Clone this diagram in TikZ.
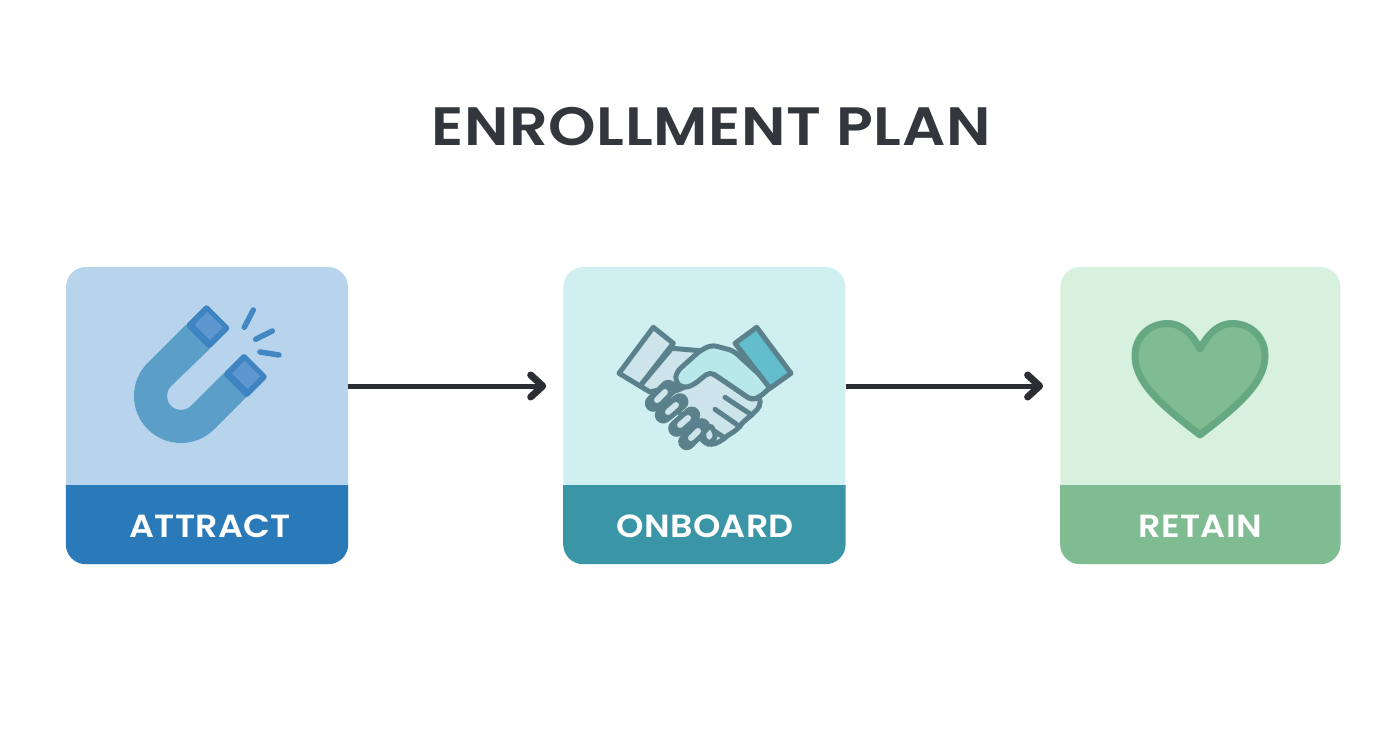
\documentclass[tikz,border=0pt]{standalone}
\usepackage{fontspec}
\newfontfamily\titlefont[FakeStretch=1.12,LetterSpace=1.2]{Poppins SemiBold}
\newfontfamily\bandfont[FakeStretch=1.09,LetterSpace=1]{Poppins SemiBold}
\usetikzlibrary{positioning,calc,arrows.meta}
\definecolor{inkcolor}{RGB}{43, 45, 51}
\definecolor{titlecolor}{RGB}{51, 54, 60}
\definecolor{attractlight}{RGB}{184, 212, 236}
\definecolor{attractdark}{RGB}{42, 121, 185}
\definecolor{onboardlight}{RGB}{207, 239, 241}
\definecolor{onboarddark}{RGB}{58, 150, 166}
\definecolor{retainlight}{RGB}{216, 241, 222}
\definecolor{retaindark}{RGB}{128, 188, 146}
\definecolor{magnetbody}{RGB}{91, 158, 200}
\definecolor{magnetcap}{RGB}{63, 132, 194}
\definecolor{magnetinner}{RGB}{94, 151, 207}
\definecolor{shakeline}{RGB}{91, 130, 140}
\definecolor{shakepale}{RGB}{205, 229, 234}
\definecolor{shakehand}{RGB}{184, 232, 234}
\definecolor{shakecuff}{RGB}{98, 189, 205}
\definecolor{heartline}{RGB}{102, 168, 129}

\begin{document}
\begin{tikzpicture}[
    x=1pt, y=-1pt,
    node distance=215pt,
    card/.style={rectangle, rounded corners=20pt, minimum width=282pt, minimum height=297pt, inner sep=0pt},
    bandtext/.style={text=white, font=\bandfont\fontsize{32}{32}\selectfont},
    arrow/.style={-{Straight Barb[length=12pt,width=22pt,line cap=round,round,line width=7pt]}, line width=5pt, draw=inkcolor, shorten >=17pt},
    spark/.style={line width=5.5pt, line cap=round, draw=magnetcap!85!magnetbody},
    finger/.style={line cap=round, line width=17pt, draw=shakeline},
    fingerslit/.style={line cap=round, line width=6pt, draw=shakepale},
    shake/.style={draw=shakeline, line width=5pt, line join=round, line cap=round}
]
\useasboundingbox (0,0) rectangle (1392,752);

% Title
\node[text=titlecolor, font=\titlefont\fontsize{54}{54}\selectfont] (title) at (711,127) {ENROLLMENT PLAN};

% Cards
\node[card, fill=attractlight] (attract) at (207,415.5) {};
\node[card, fill=onboardlight, right=of attract] (onboard) {};
\node[card, fill=retainlight, minimum width=280pt, right=214.5pt of onboard] (retain) {};

% Dark bands
\fill[attractdark] ([yshift=79pt]attract.south east) -- ([yshift=79pt]attract.south west) [rounded corners=20pt] -- (attract.south west) -- (attract.south east) [sharp corners] -- cycle;
\fill[onboarddark] ([yshift=79pt]onboard.south east) -- ([yshift=79pt]onboard.south west) [rounded corners=20pt] -- (onboard.south west) -- (onboard.south east) [sharp corners] -- cycle;
\fill[retaindark] ([yshift=79pt]retain.south east) -- ([yshift=79pt]retain.south west) [rounded corners=20pt] -- (retain.south west) -- (retain.south east) [sharp corners] -- cycle;

% Band labels
\node[bandtext] (attract_label) at ([xshift=3pt,yshift=38pt]attract.south) {ATTRACT};
\node[bandtext] (onboard_label) at ([xshift=1pt,yshift=38pt]onboard.south) {ONBOARD};
\node[bandtext] (retain_label) at ([yshift=38pt]retain.south) {RETAIN};

% Arrows
\draw[arrow] ([yshift=29.5pt]attract.east) -- ([yshift=29.5pt]onboard.west);
\draw[arrow] ([yshift=29.5pt]onboard.east) -- ([yshift=29.5pt]retain.west);

% Magnet
\begin{scope}[shift={(181,396)}, rotate=45, x=1pt, y=1pt]
    \fill[magnetbody] (54,47) -- (0,47) arc[start angle=90, end angle=270, radius=47pt] -- (46,-47) -- (46,-14) -- (0,-14) arc[start angle=270, end angle=90, radius=14pt] -- (54,13) -- cycle;
    \fill[magnetcap, rounded corners=3pt] (53,13) rectangle (83,47);
    \fill[magnetcap, rounded corners=3pt] (45,-14) rectangle (75,-48);
    \fill[magnetinner] (60,19) rectangle (78,41);
    \fill[magnetinner] (52,-20) rectangle (70,-42);
\end{scope}
\draw[spark] (253.3,310) -- (244.3,327.3);
\draw[spark] (272.3,331) -- (255.7,339.3);
\draw[spark] (260,352) -- (279,355);

% Handshake
\draw[shake, fill=shakepale] (671.7,348.3) -- (700,350.7) -- (680,385) -- (650,392) -- (640,386) -- cycle;
\draw[shake, fill=shakepale, rounded corners=4pt] (683,388) -- (710,371.7) -- (751.7,400) -- (760,396.7) -- (760,406.7) -- (751.7,415) -- (743.3,421.7) -- (736.7,430) -- (728.3,435) -- (720,441.7) -- (711.7,445) -- (705,443.3) -- (665,395) -- cycle;
\draw[shake, fill=shakehand, rounded corners=5pt] (733.3,350.7) -- (711.7,345) -- (700,350.7) -- (676.7,371.7) -- (675,381.7) -- (683.3,388.3) -- (693.3,385) -- (710,371.7) -- (720,378.3) -- (751.7,400) -- (760,396.7) -- (772,386) -- cycle;
\draw[shake] (725,397.3) -- (751.7,415);
\draw[shake] (715,409.3) -- (740,426.7);
\draw[shake] (705,425) -- (725,438);
\draw[finger] (668.3,388.3) -- (653.3,403.3);
\draw[finger] (680,401.7) -- (663.3,415);
\draw[finger] (691.7,415) -- (676.7,428.3);
\draw[finger] (701.7,426.7) -- (686.7,441.7);
\draw[fingerslit] (665,392) -- (657,400);
\draw[fingerslit] (676,405) -- (668,412);
\draw[fingerslit] (688,418) -- (680,425);
\draw[fingerslit] (698,431) -- (691,438);
\draw[shake, fill=shakepale, rounded corners=3pt] (711,425) -- (716,436) -- (711,443) -- (705,441) -- (703,433) -- cycle;
\draw[shake, fill=shakepale] (653.3,327.3) -- (673.3,343.3) -- (640,386) -- (619,373.3) -- cycle;
\draw[shake, fill=shakecuff] (735,343.3) -- (756.7,327.3) -- (791,373.3) -- (770,388.3) -- cycle;

% Heart
\draw[fill=retaindark, draw=heartline, line width=7pt, line join=round] (1200,349) .. controls (1207,335) and (1218,323.5) .. (1232,323.5) .. controls (1252,323.5) and (1265,338) .. (1265,356) .. controls (1265,385) and (1232,410) .. (1200,435) .. controls (1168,410) and (1135,385) .. (1135,356) .. controls (1135,338) and (1148,323.5) .. (1168,323.5) .. controls (1182,323.5) and (1193,335) .. (1200,349) -- cycle;

\end{tikzpicture}
\end{document}
